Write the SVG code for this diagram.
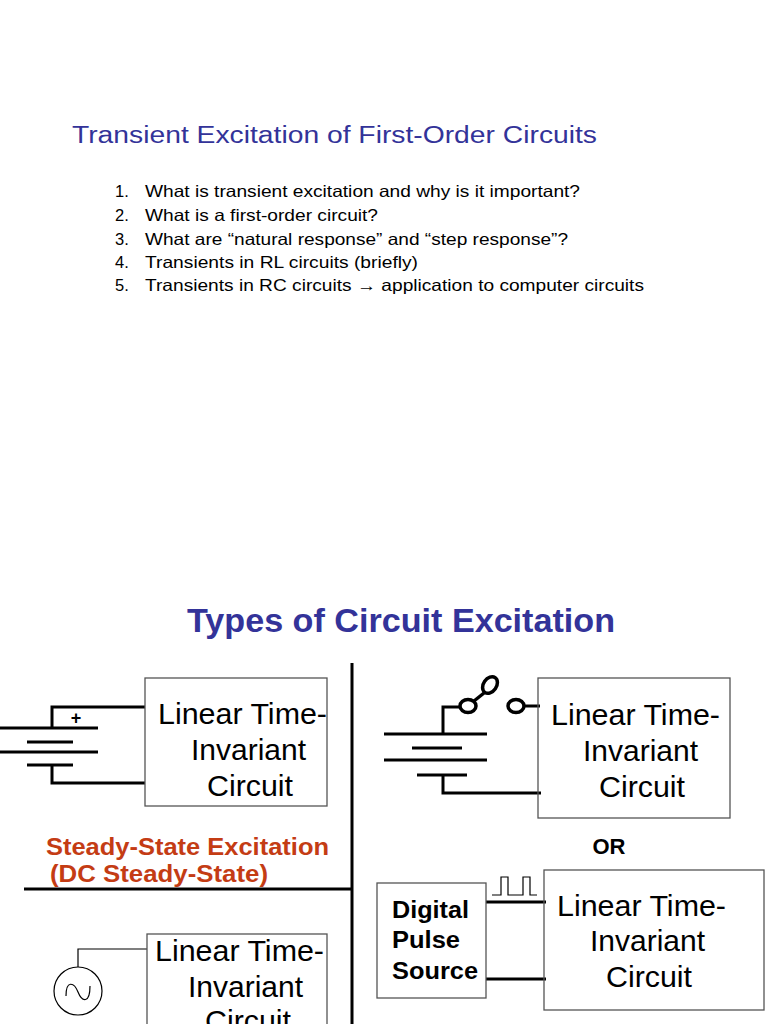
<svg xmlns="http://www.w3.org/2000/svg" width="768" height="1024" viewBox="0 0 768 1024">
<style>
text{font-family:"Liberation Sans",Arial,sans-serif}
.box{fill:none;stroke:#555;stroke-width:1.3}
.w{fill:none;stroke:#000;stroke-width:3}
.t{fill:none;stroke:#000;stroke-width:1.2}
.big{font-size:29px}
.li{font-size:16.5px}
.red{fill:#c43c14;font-size:23px;font-weight:bold}
.bd{font-size:23px;font-weight:bold}
</style>
<rect width="768" height="1024" fill="#fff"/>
<text x="72" y="143" fill="#333399" font-size="23" textLength="525" lengthAdjust="spacingAndGlyphs">Transient Excitation of First-Order  Circuits</text>
<g id="list">
<text x="115" y="197" class="li">1.</text><text x="145" y="197" class="li" textLength="435" lengthAdjust="spacingAndGlyphs">What is transient excitation and why is it important?</text>
<text x="115" y="221" class="li">2.</text><text x="145" y="221" class="li" textLength="233" lengthAdjust="spacingAndGlyphs">What is a first-order circuit?</text>
<text x="115" y="245" class="li">3.</text><text x="145" y="245" class="li" textLength="423" lengthAdjust="spacingAndGlyphs">What are “natural response” and “step response”?</text>
<text x="115" y="268" class="li">4.</text><text x="145" y="268" class="li" textLength="273" lengthAdjust="spacingAndGlyphs">Transients in RL circuits (briefly)</text>
<text x="115" y="291" class="li">5.</text><text x="145" y="291" class="li" textLength="499" lengthAdjust="spacingAndGlyphs">Transients in RC circuits → application to computer circuits</text>
</g>
<text x="187" y="632" fill="#333399" font-size="33" font-weight="bold" textLength="428" lengthAdjust="spacingAndGlyphs">Types of Circuit Excitation</text>
<g id="dividers">
<line x1="352" y1="663" x2="352" y2="1024" class="w"/>
<line x1="24" y1="889" x2="352" y2="889" class="w"/>
</g>
<g id="connectors">
<polyline points="145,707 52,707 52,728" class="w"/>
<polyline points="52,765 52,783 145,783" class="w"/>
<polyline points="147,949 78,949 78,967" class="t"/>
<polyline points="443,734 443,707 459,707" class="w"/>
<line x1="525" y1="706" x2="540" y2="706" class="w"/>
<polyline points="443,775 443,793 541,793" class="w"/>
<line x1="486" y1="902" x2="546" y2="902" class="w"/>
<line x1="486" y1="979" x2="546" y2="979" class="w"/>
</g>
<g id="battery1">
<line x1="0" y1="728" x2="98" y2="728" class="w"/>
<line x1="27" y1="742" x2="73" y2="742" class="w"/>
<line x1="0" y1="752" x2="98" y2="752" class="w"/>
<line x1="27" y1="765" x2="73" y2="765" class="w"/>
<text x="76" y="724" font-size="18" font-weight="bold" text-anchor="middle">+</text>
</g>
<g id="ltic1">
<rect x="145" y="678" width="182" height="128" class="box"/>
<text x="158" y="724" class="big" textLength="169" lengthAdjust="spacingAndGlyphs">Linear Time-</text>
<text x="191" y="760" class="big" textLength="115" lengthAdjust="spacingAndGlyphs">Invariant</text>
<text x="207" y="796" class="big" textLength="86" lengthAdjust="spacingAndGlyphs">Circuit</text>
</g>
<text x="46" y="855" class="red" textLength="283" lengthAdjust="spacingAndGlyphs">Steady-State Excitation</text>
<text x="50" y="882" class="red" textLength="218" lengthAdjust="spacingAndGlyphs">(DC Steady-State)</text>
<g id="ac">
<circle cx="78" cy="991" r="24" class="t" stroke-width="1.6"/>
<path d="M66,996 C66,980 74,982 78,992 C82,1002 90,1004 90,986" class="t" stroke-width="1.6"/>
</g>
<g id="ltic2">
<rect x="147" y="934" width="180" height="100" class="box"/>
<text x="155" y="961" class="big" textLength="169" lengthAdjust="spacingAndGlyphs">Linear Time-</text>
<text x="188" y="997" class="big" textLength="115" lengthAdjust="spacingAndGlyphs">Invariant</text>
<text x="205" y="1031" class="big" textLength="86" lengthAdjust="spacingAndGlyphs">Circuit</text>
</g>
<g id="battery2">
<line x1="384" y1="734" x2="487" y2="734" class="w"/>
<line x1="412" y1="748" x2="462" y2="748" class="w"/>
<line x1="384" y1="760" x2="487" y2="760" class="w"/>
<line x1="417" y1="775" x2="467" y2="775" class="w"/>
</g>
<g id="switch" fill="#fff" stroke="#000" stroke-width="3.5">
<ellipse cx="468" cy="706" rx="8" ry="6.5"/>
<line x1="474" y1="701" x2="484" y2="693"/>
<ellipse cx="490" cy="685" rx="6.5" ry="9" transform="rotate(35 490 685)"/>
<ellipse cx="516" cy="706" rx="8" ry="6.5"/>
</g>
<g id="ltic3">
<rect x="538" y="678" width="192" height="140" class="box"/>
<text x="551" y="725" class="big" textLength="169" lengthAdjust="spacingAndGlyphs">Linear Time-</text>
<text x="583" y="761" class="big" textLength="115" lengthAdjust="spacingAndGlyphs">Invariant</text>
<text x="599" y="797" class="big" textLength="86" lengthAdjust="spacingAndGlyphs">Circuit</text>
</g>
<text x="609" y="854" font-size="22" font-weight="bold" text-anchor="middle">OR</text>
<g id="pulse">
<rect x="377" y="883" width="109" height="115" class="box"/>
<text x="392" y="918" class="bd" textLength="77" lengthAdjust="spacingAndGlyphs">Digital</text>
<text x="392" y="948" class="bd" textLength="68" lengthAdjust="spacingAndGlyphs">Pulse</text>
<text x="392" y="979" class="bd" textLength="86" lengthAdjust="spacingAndGlyphs">Source</text>
</g>
<polyline points="492,895 501,895 501,877 508,877 508,895 523,895 523,877 530,877 530,895 537,895" class="t"/>
<g id="ltic4">
<rect x="544" y="870" width="220" height="140" class="box"/>
<text x="557" y="916" class="big" textLength="169" lengthAdjust="spacingAndGlyphs">Linear Time-</text>
<text x="590" y="951" class="big" textLength="115" lengthAdjust="spacingAndGlyphs">Invariant</text>
<text x="606" y="987" class="big" textLength="86" lengthAdjust="spacingAndGlyphs">Circuit</text>
</g>
</svg>
